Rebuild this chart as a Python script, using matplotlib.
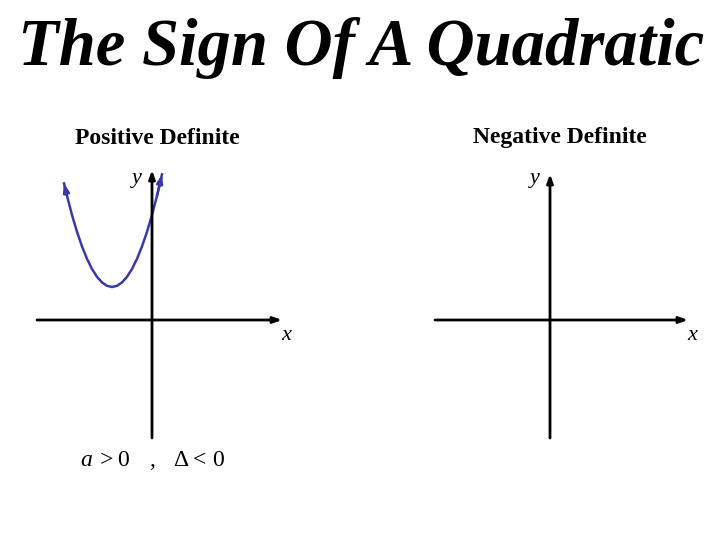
import matplotlib
matplotlib.use("Agg")
import matplotlib.pyplot as plt

# parabola (axis units: 1 unit = 20 px)
curve_x = [-4.4, -4.25, -4.0, -3.75, -3.5, -3.25, -3.0, -2.75, -2.5, -2.25, -2.0,
           -1.75, -1.5, -1.25, -1.0, -0.75, -0.5, -0.25, 0.0, 0.25, 0.5]
curve_y = [6.83, 6.21, 5.25, 4.41, 3.68, 3.06, 2.55, 2.16, 1.88, 1.71, 1.65,
           1.71, 1.88, 2.16, 2.55, 3.06, 3.68, 4.41, 5.25, 6.21, 7.28]

panel_titles = ["Positive Definite", "Negative Definite"]
x_axis_ends = [(-5.75, 6.5), (-5.75, 6.9)]
y_axis_ends = [(-5.9, 7.5), (-5.9, 7.3)]
origins_px = [152, 550]
title_px = [157, 560]

W, H = 728, 546
fig = plt.figure(figsize=(W / 100, H / 100), dpi=100)
plt.rcParams['font.family'] = ['Liberation Serif', 'DejaVu Serif']

fig.text(18 / W, 1 - 65 / H, "The Sign Of A Quadratic", fontsize=48,
         fontweight="bold", fontstyle="italic", ha="left", va="baseline")

head = "-|>,head_length=0.5,head_width=0.18"
xlim = (-6, 7.5)
ylim = (-6.5, 8)
axes = []
for i, ox in enumerate(origins_px):
    left = ox + xlim[0] * 20
    bottom = 320 - ylim[0] * 20
    ax = fig.add_axes([left / W, 1 - bottom / H,
                       (xlim[1] - xlim[0]) * 20 / W, (ylim[1] - ylim[0]) * 20 / H])
    ax.set_xlim(*xlim)
    ax.set_ylim(*ylim)
    ax.axis("off")
    axes.append(ax)

    xa, xb = x_axis_ends[i]
    ya, yb = y_axis_ends[i]
    ax.annotate("", xy=(xb, 0), xytext=(xa, 0),
                arrowprops=dict(arrowstyle=head, color="black", lw=2,
                                shrinkA=0, shrinkB=0))
    ax.annotate("", xy=(0, yb), xytext=(0, ya),
                arrowprops=dict(arrowstyle=head, color="black", lw=2,
                                shrinkA=0, shrinkB=0))
    ax.text(-0.75, 7.1, "y", fontsize=16, fontstyle="italic", ha="center", va="center")
    ax.text(xb + 0.2, -0.75, "x", fontsize=16, fontstyle="italic", ha="center", va="center")

    fig.text(title_px[i] / W, 1 - 138 / H, panel_titles[i], fontsize=17,
             fontweight="bold", ha="center", va="center")

blue = "#3b38aa"
ax = axes[0]
ax.plot(curve_x, curve_y, color=blue, lw=1.8, solid_joinstyle="round")
ax.annotate("", xy=(curve_x[0], curve_y[0]), xytext=(curve_x[1], curve_y[1]),
            arrowprops=dict(arrowstyle=head, color=blue, lw=1.8, shrinkA=0, shrinkB=0))
ax.annotate("", xy=(curve_x[-1], curve_y[-1]), xytext=(curve_x[-2], curve_y[-2]),
            arrowprops=dict(arrowstyle=head, color=blue, lw=1.8, shrinkA=0, shrinkB=0))

# condition text below the left panel
y_cond = 1 - 461 / H
fig.text(80 / W, y_cond, "a", fontsize=17, fontstyle="italic", ha="left", va="center")
fig.text(100 / W, y_cond, ">", fontsize=17, ha="left", va="center")
fig.text(117 / W, y_cond, "0", fontsize=17, ha="left", va="center")
fig.text(149 / W, y_cond, ",", fontsize=17, ha="left", va="center")
fig.text(173 / W, y_cond, "\u0394", fontsize=17, ha="left", va="center")
fig.text(193 / W, y_cond, "<", fontsize=17, ha="left", va="center")
fig.text(212 / W, y_cond, "0", fontsize=17, ha="left", va="center")

fig.savefig("out.png", dpi=100)
